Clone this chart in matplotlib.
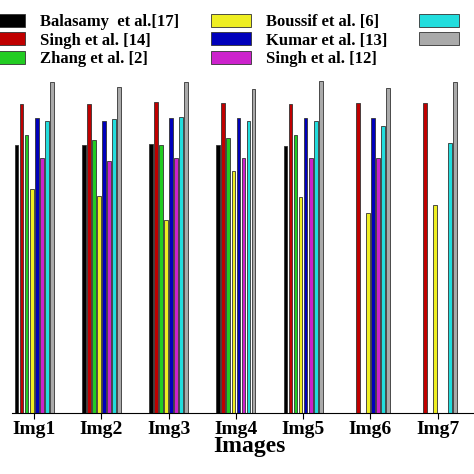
import numpy as np
import matplotlib.pyplot as plt

plt.rcParams['font.family'] = 'Liberation Serif'
plt.rcParams['font.weight'] = 'bold'

images = ['Img1', 'Img2', 'Img3', 'Img4', 'Img5', 'Img6', 'Img7']
methods = ['Balasamy  et al.[17]', 'Singh et al. [14]', 'Zhang et al. [2]',
           'Boussif et al. [6]', 'Kumar et al. [13]', 'Singh et al. [12]',
           'Bamal et al.', 'Proposed']
colors = ['black', '#c00000', '#22cc22', '#eeee22', '#0000bb', '#cc22cc', '#22dddd', '#aaaaaa']

balasamy = [268, 268, 269, 268, 267, 0, 0]
singh14 = [309, 309, 311, 310, 309, 310, 310]
zhang = [278, 273, 268, 275, 278, 0, 0]
boussif = [224, 217, 193, 242, 216, 200, 208]
kumar = [295, 292, 295, 295, 295, 295, 0]
singh12 = [255, 252, 255, 255, 255, 255, 0]
bamal = [292, 294, 296, 292, 292, 287, 270]
proposed = [331, 326, 331, 324, 332, 325, 331]
series = [balasamy, singh14, zhang, boussif, kumar, singh12, bamal, proposed]

fig = plt.figure(figsize=(4.74, 4.74), dpi=100)
ax = fig.add_axes([12/474, 61/474, 1.0, 353/474])

x = np.arange(len(images))
pitch = 0.075
for i, (vals, c) in enumerate(zip(series, colors)):
    ax.bar(x + (i - 3.5) * pitch, vals, width=0.055, color=c,
           edgecolor='#333333', linewidth=0.6, label=methods[i])

ax.set_xlim(-0.33, 6.72)
ax.set_ylim(0, 353)
for s in ['top', 'right', 'left']:
    ax.spines[s].set_visible(False)
ax.set_yticks([])
ax.set_xticks(x)
ax.set_xticklabels(images, fontsize=14, fontweight='bold')
ax.tick_params(axis='x', length=4, direction='out', pad=2)
ax.set_xlabel('Images', fontsize=17, fontweight='bold', labelpad=-2)

fig.legend(loc='upper left', bbox_to_anchor=(-0.045, 0.985), ncol=3, frameon=False,
           fontsize=12, handlelength=2.4, handleheight=0.8, columnspacing=1.9,
           labelspacing=0.15, handletextpad=0.9, borderaxespad=0)

fig.savefig('out.png', dpi=100)
